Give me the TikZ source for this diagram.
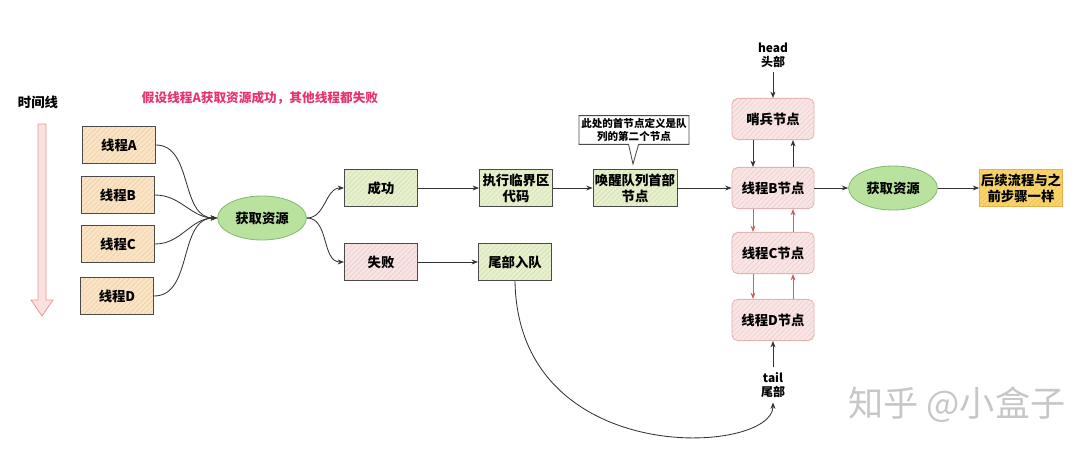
\documentclass[tikz,border=0pt]{standalone}
\usepackage{fontspec}
\setmainfont{Noto Sans CJK SC}
\usepackage{tikz}
\usetikzlibrary{shapes.geometric,shapes.callouts,patterns.meta,arrows.meta}

\definecolor{threadfill}{HTML}{FCE3C2}
\definecolor{okfill}{HTML}{E6F1CB}
\definecolor{failfill}{HTML}{F9E3E3}
\definecolor{qfill}{HTML}{FBE4E4}
\definecolor{qline}{HTML}{E3B4B2}
\definecolor{resfill}{HTML}{B9E29E}
\definecolor{resline}{HTML}{86BC72}
\definecolor{nextfill}{HTML}{FAD46A}
\definecolor{nextline}{HTML}{E9B04A}
\definecolor{boxline}{HTML}{4A4A4A}
\definecolor{linkcol}{HTML}{333333}
\definecolor{redlink}{HTML}{C4665E}
\definecolor{titlecol}{HTML}{E8336E}
\definecolor{timefill}{HTML}{FBE0E0}
\definecolor{timeline}{HTML}{E59A9A}

\begin{document}
\begin{tikzpicture}[x=0.025cm, y=-0.025cm,
    font=\bfseries\fontsize{9.5}{11.5}\selectfont,
    >={Stealth[length=4.5pt,width=3.5pt]},
    box/.style={draw=boxline, line width=0.6pt, minimum width=1.83cm,
        minimum height=0.93cm, align=center, inner sep=1pt,
        preaction={fill=#1},
        pattern={Lines[angle=45,distance=2.5pt,line width=0.3pt]},
        pattern color=#1!90!black},
    qnode/.style={box=qfill, draw=qline, rounded corners=4pt,
        minimum width=2.05cm, minimum height=1.03cm},
    getres/.style={ellipse, draw=resline, line width=0.6pt, fill=resfill,
        minimum width=1.85cm, minimum height=1.1cm},
    link/.style={->, line width=0.6pt, draw=linkcol},
    rlink/.style={link, draw=redlink}]

    % Fix the page size
    \useasboundingbox (0,0) rectangle (1080,448);

    % Time line
    \node (time) at (38,102) {时间线};
    \draw[timeline, fill=timefill, line width=0.6pt]
        (38,124) -- (46,124) -- (46,300) -- (53,300) -- (42,316)
        -- (31,300) -- (38,300) -- cycle;

    % Title
    \node[text=titlecol, font=\bfseries\fontsize{9}{11}\selectfont] (title) at (260,98)
        {假设线程A获取资源成功，其他线程都失败};

    % Threads
    \node[box=threadfill] (ta) at (119,145) {线程A};
    \node[box=threadfill] (tb) at (118,195) {线程B};
    \node[box=threadfill] (tc) at (118,244) {线程C};
    \node[box=threadfill] (td) at (117,296) {线程D};

    % Get the resource
    \node[getres] (res1) at (262,218) {获取资源};
    \foreach \t in {ta,tb,tc,td}
        \draw[link] (\t.east) to[out=0,in=180] (res1.west);

    % Success and failure
    \node[box=okfill] (ok) at (381,188) {成功};
    \node[box=failfill] (fail) at (381,262) {失败};
    \draw[link] (res1.east) to[out=0,in=180] (ok.west);
    \draw[link] (res1.east) to[out=0,in=180] (fail.west);

    \node[box=okfill] (exec) at (516,188) {执行临界区\\代码};
    \node[box=okfill, minimum width=2.1cm] (wake) at (635,188) {唤醒队列首部\\节点};
    \node[box=okfill] (tailq) at (515,262) {尾部入队};
    \draw[link] (ok) -- (exec);
    \draw[link] (exec) -- (wake);
    \draw[link] (fail) -- (tailq);

    % Note on the first node
    \node[rectangle callout, draw=boxline, fill=white, line width=0.6pt,
        align=center, font=\bfseries\fontsize{7.5}{9}\selectfont,
        minimum width=2.75cm, minimum height=0.72cm, inner sep=1pt,
        callout absolute pointer={(633,164)}] (note) at (634,130)
        {此处的首节点定义是队\\列的第二个节点};

    % Queue
    \node[qnode] (sent) at (773,119) {哨兵节点};
    \node[qnode] (nb) at (773,188) {线程B节点};
    \node[qnode] (nc) at (773,253) {线程C节点};
    \node[qnode] (nd) at (773,320) {线程D节点};
    \node[align=center, font=\bfseries\fontsize{8.5}{10}\selectfont] (head) at (773,55) {head\\头部};
    \node[align=center, font=\bfseries\fontsize{8.5}{10}\selectfont] (tail) at (773,385) {tail\\尾部};

    \draw[link] (head) -- (sent);
    \draw[link] (tail) -- (nd);
    \draw[link] ([xshift=-0.5cm]sent.south) -- ([xshift=-0.5cm]nb.north);
    \draw[link] ([xshift=0.5cm]nb.north) -- ([xshift=0.5cm]sent.south);
    \draw[rlink] ([xshift=-0.5cm]nb.south) -- ([xshift=-0.5cm]nc.north);
    \draw[rlink] ([xshift=0.5cm]nc.north) -- ([xshift=0.5cm]nb.south);
    \draw[rlink] ([xshift=-0.5cm]nc.south) -- ([xshift=-0.5cm]nd.north);
    \draw[rlink] ([xshift=0.5cm]nd.north) -- ([xshift=0.5cm]nc.south);

    \draw[link] (wake) -- (nb);
    \draw[link] (tailq.south) .. controls (518,470) and (773,455) .. (tail.south);

    % Resource again, then the rest
    \node[getres] (res2) at (893,188) {获取资源};
    \node[box=nextfill, draw=nextline, minimum width=2.05cm] (next) at (1021,188)
        {后续流程与之\\前步骤一样};
    \draw[link] (nb) -- (res2);
    \draw[link] (res2) -- (next);

    % Watermark
    \node[text=black!22, font=\fontsize{25}{29}\selectfont] (mark) at (957,405) {知乎 @小盒子};
\end{tikzpicture}
\end{document}
